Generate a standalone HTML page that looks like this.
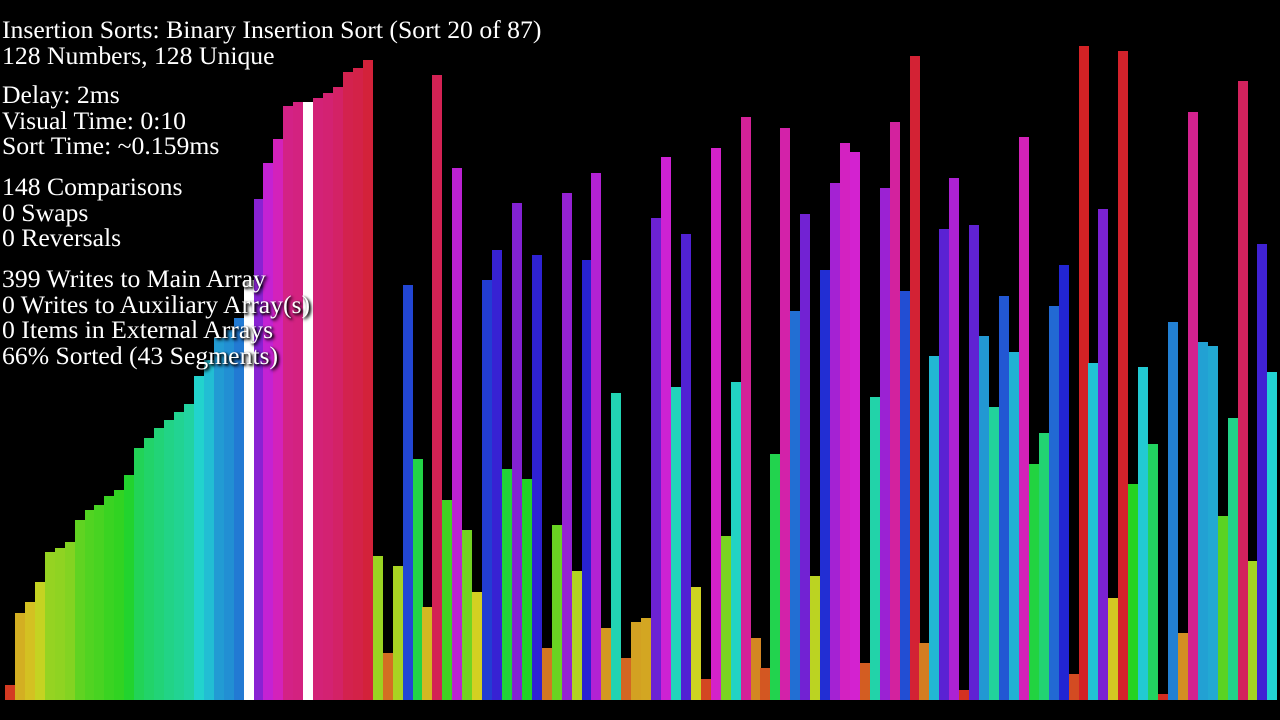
<!DOCTYPE html>
<html><head><meta charset="utf-8">
<style>
html,body{margin:0;padding:0;background:#000;width:1280px;height:720px;overflow:hidden;}
#c{position:absolute;left:0;top:0;width:1280px;height:720px;}
.b{position:absolute;width:10px;}
.t{position:absolute;left:2px;color:#fff;font-family:"Liberation Serif",serif;font-size:25.7px;line-height:25.5px;white-space:nowrap;text-shadow:1px 1px 2px #000,2px 2px 3px #000;}
</style></head><body>
<div id="c"></div>
<div class="t" style="top:17px">Insertion Sorts: Binary Insertion Sort (Sort 20 of 87)<br>128 Numbers, 128 Unique</div>
<div class="t" style="top:82px">Delay: 2ms<br>Visual Time: 0:10<br>Sort Time: ~0.159ms</div>
<div class="t" style="top:174px">148 Comparisons<br>0 Swaps<br>0 Reversals</div>
<div class="t" style="top:266px">399 Writes to Main Array<br>0 Writes to Auxiliary Array(s)<br>0 Items in External Arrays<br>66% Sorted (43 Segments)</div>
<script>
var tops=[685,613,602,582,552,548,542,520,510,505,496,490,475,448,438,428,420,412,404,376,360,338,330,318,280,199,163,139,106,102,102,98,93,87,72,68,60,
556,653,566,285,459,607,75,500,168,530,592,280,250,469,203,479,255,648,525,193,571,260,173,628,393,658,622,618,218,157,387,234,
587,679,148,536,382,117,638,668,454,128,311,214,576,270,183,143,152,663,397,188,122,291,56,643,356,229,178,690,225,336,407,
296,352,137,464,433,306,265,674,46,363,209,598,51,484,367,444,694,322,633,112,342,346,516,418,81,561,244,372];
var white={24:1,30:1};
var c=document.getElementById('c'),h='';
for(var i=0;i<tops.length;i++){
  var t=tops[i],v=(700-t)/5.12,hue=(v/128*360)%360;
  var col=white[i]?'#fff':'hsl('+hue.toFixed(0)+',72%,48%)';
  var x=Math.round(5+i*9.94);
  if(white[i]) t=(i==30?102:280);
  h+='<div class="b" style="left:'+x+'px;top:'+t+'px;height:'+(700-t)+'px;background:'+col+'"></div>';
}
c.innerHTML=h;
</script>
</body></html>
